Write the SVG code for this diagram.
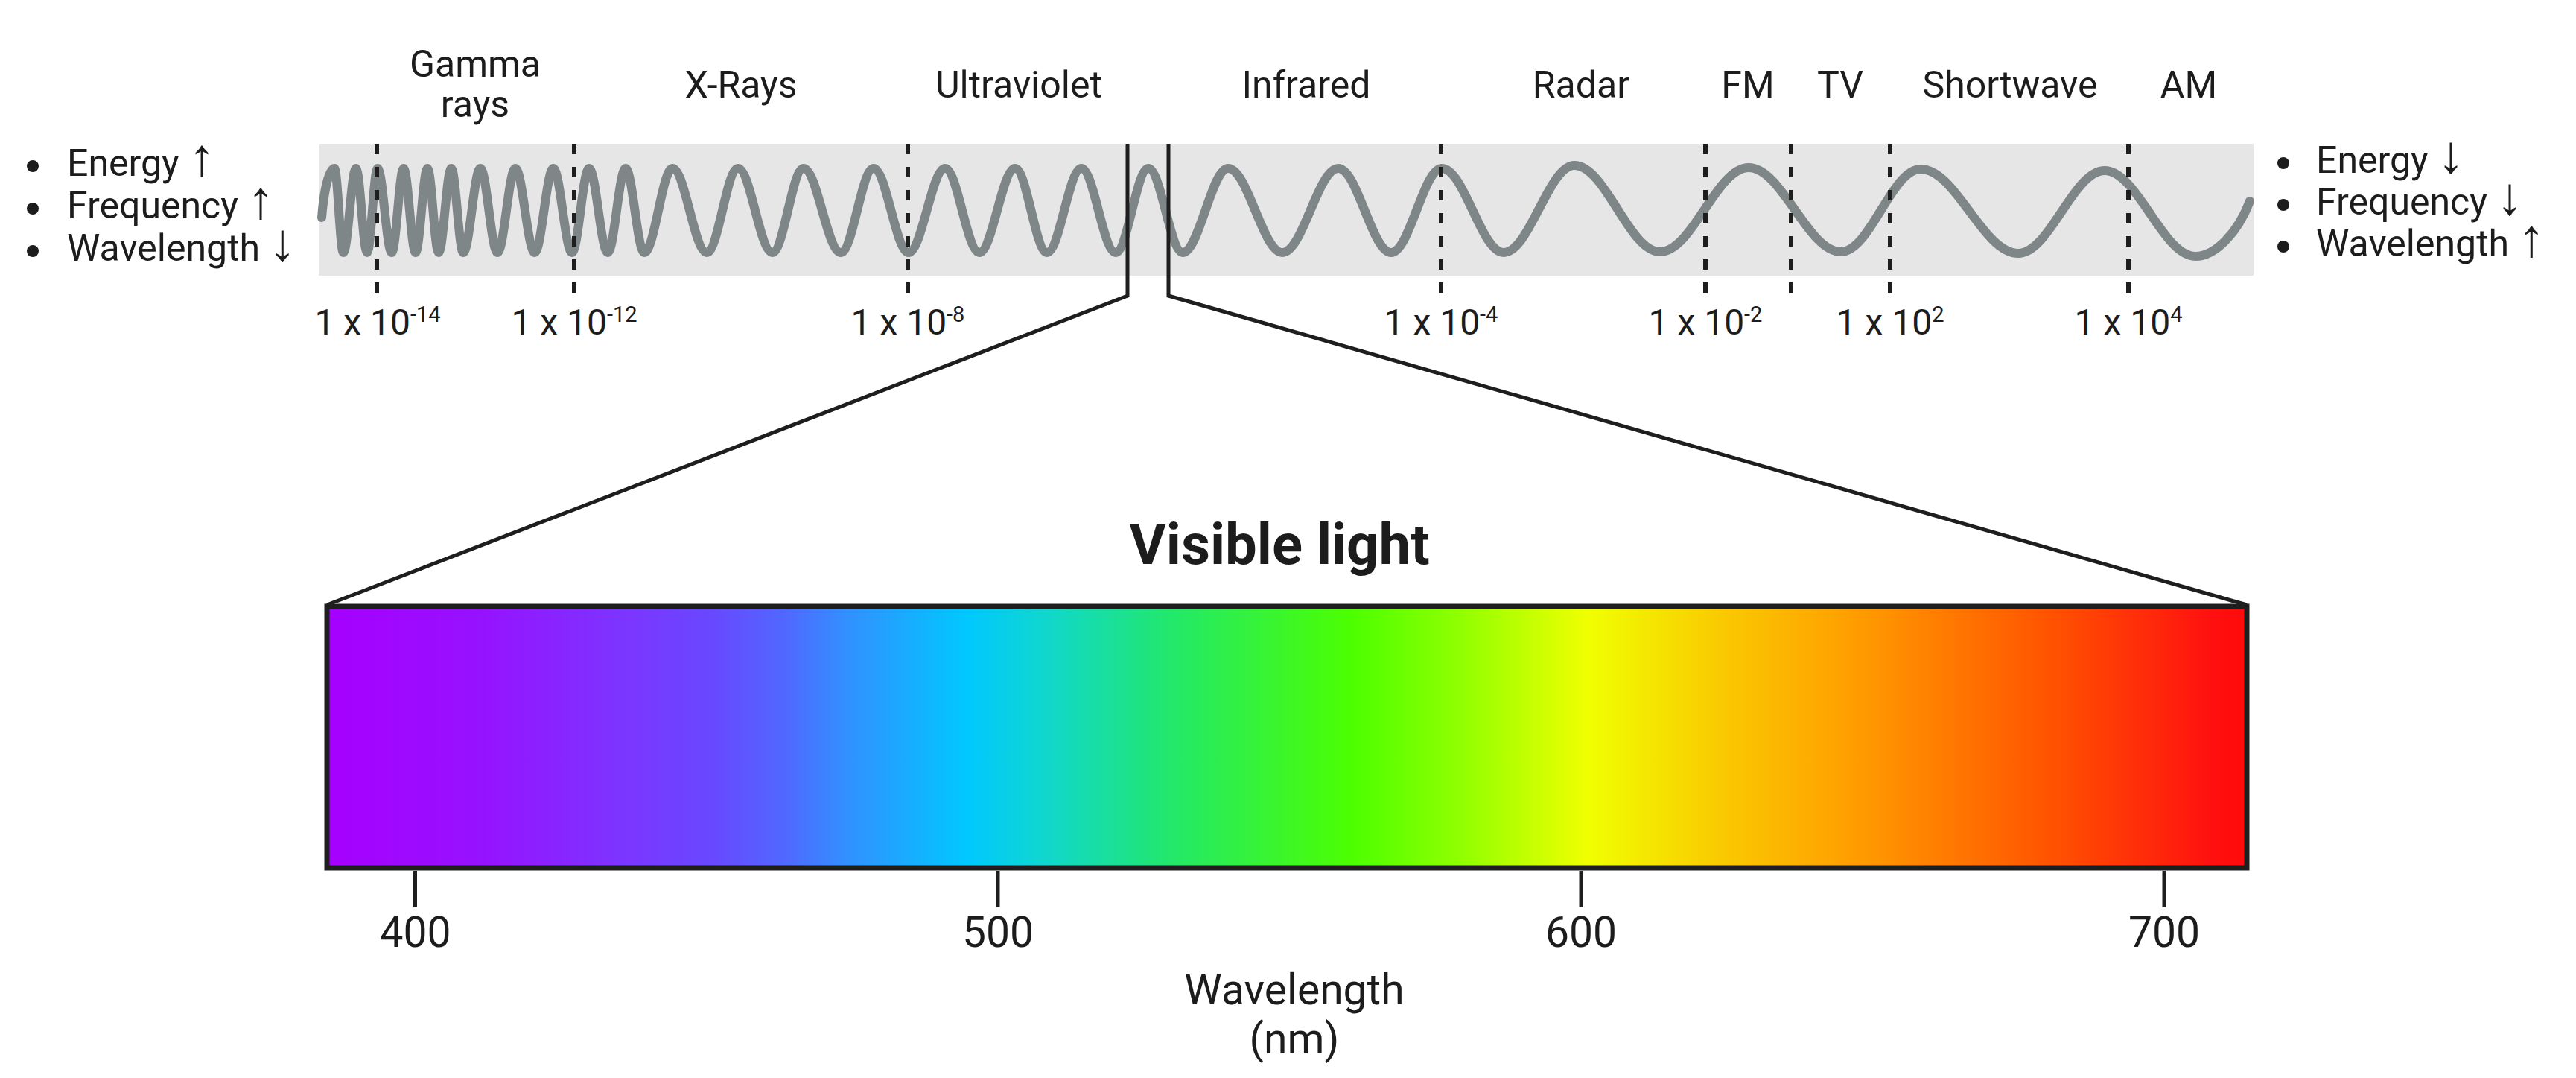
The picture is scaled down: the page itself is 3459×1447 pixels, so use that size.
<svg xmlns="http://www.w3.org/2000/svg" width="3459" height="1447" viewBox="0 0 3459 1447">
<defs>
<style>
text{font-family:Roboto,"Liberation Sans","DejaVu Sans",sans-serif;fill:#1c1c1c}
.lbl{font-size:50px;text-anchor:middle}
.side{font-size:50px}
.arr{font-family:"Liberation Sans","DejaVu Sans",sans-serif;font-size:72px}
.exp{font-size:48px;text-anchor:middle}
.sup{font-size:29px}
.vis{font-size:76px;font-weight:700;text-anchor:middle}
.nm{font-size:57px;text-anchor:middle}
.dash{stroke:#1e1e1e;stroke-width:6;stroke-dasharray:14 17;fill:none}
.conn{stroke:#1e1e1e;stroke-width:5;fill:none;stroke-linejoin:miter}
.tick{stroke:#1e1e1e;stroke-width:5}
.dot{fill:#1c1c1c}
</style>
<linearGradient id="rainbow" gradientUnits="userSpaceOnUse" x1="442" y1="0" x2="3014" y2="0">
<stop offset="0" stop-color="#a600ff"/>
<stop offset="0.08" stop-color="#9612ff"/>
<stop offset="0.154" stop-color="#7c35ff"/>
<stop offset="0.2" stop-color="#6848ff"/>
<stop offset="0.24" stop-color="#4f6aff"/>
<stop offset="0.27" stop-color="#3290ff"/>
<stop offset="0.295" stop-color="#1ea6ff"/>
<stop offset="0.333" stop-color="#00c8ff"/>
<stop offset="0.372" stop-color="#10d6d0"/>
<stop offset="0.44" stop-color="#22e86a"/>
<stop offset="0.534" stop-color="#4cff00"/>
<stop offset="0.59" stop-color="#90ff00"/>
<stop offset="0.657" stop-color="#f0ff00"/>
<stop offset="0.729" stop-color="#fac800"/>
<stop offset="0.792" stop-color="#ffa000"/>
<stop offset="0.848" stop-color="#ff7800"/>
<stop offset="0.9" stop-color="#ff5200"/>
<stop offset="0.983" stop-color="#ff1010"/>
<stop offset="1" stop-color="#ff0a0a"/>
</linearGradient>
</defs>
<rect width="3459" height="1447" fill="#ffffff"/>

<g id="spectrum-band">
<rect x="428" y="193" width="2598" height="177" fill="#e6e6e6"/>
</g>

<g id="wave">
<path fill="none" stroke="#7f8687" stroke-width="12" stroke-linecap="round" stroke-linejoin="round" d="M432,292 C435,255 442,226 449,226 C453.4,226 456.6,339 461,339 C467.2,339 471.8,226 478,226 C483.5,226 487.5,339 493,339 C498.1,339 501.9,226 507,226 C513.9,226 519.1,339 526,339 C531.8,339 536.2,226 542,226 C547.8,226 552.2,339 558,339 C563.8,339 568.2,226 574,226 C579.5,226 583.5,339 589,339 C595.2,339 599.8,226 606,226 C611.8,226 616.2,339 622,339 C630.4,339 636.6,226 645,226 C653.4,226 659.6,339 668,339 C676.7,339 683.3,226 692,226 C701.4,226 708.6,339 718,339 C727.1,339 733.9,226 743,226 C752.1,226 758.9,339 768,339 C776.4,339 782.6,226 791,226 C800.1,226 806.9,339 816,339 C824.7,339 831.3,226 840,226 C849.1,226 855.9,339 865,339 C878.8,339 889.2,226 903,226 C919.7,226 932.3,339 949,339 C964.3,339 975.7,226 991,226 C1007.7,226 1020.3,339 1037,339 C1052.3,339 1063.7,226 1079,226 C1097.2,226 1110.8,339 1129,339 C1145,339 1157,226 1173,226 C1190.1,226 1202.9,339 1220,339 C1237.8,339 1251.2,226 1269,226 C1285.7,226 1298.3,339 1315,339 C1332.4,339 1345.6,226 1363,226 C1378.6,226 1390.4,339 1406,339 C1422.7,339 1435.3,226 1452,226 C1468.7,226 1481.3,339 1498,339 C1514,339 1526,226 1542,226 C1558.7,226 1571.3,339 1588,339 C1610.2,339 1626.8,226 1649,226 C1675.5,226 1695.5,339 1722,339 C1749.3,339 1769.7,226 1797,226 C1822.8,226 1842.2,339 1868,339 C1892.7,339 1911.3,226 1936,226 C1966.2,226 1988.8,339 2019,339 C2053.5,339 2079.5,222 2114,222 C2155.8,222 2187.2,338 2229,338 C2272.2,338 2304.8,225 2348,225 C2393.1,225 2426.9,338 2472,338 C2510.9,338 2540.1,227 2579,227 C2626.6,227 2662.4,340 2710,340 C2752.2,340 2783.8,229 2826,229 C2870.3,229 2903.7,344 2948,344 C2975,344 3005,312 3021,270"/>
</g>

<g id="dividers">
<line class="dash" x1="506" y1="193" x2="506" y2="393"/>
<line class="dash" x1="771" y1="193" x2="771" y2="393"/>
<line class="dash" x1="1219" y1="193" x2="1219" y2="393"/>
<line class="dash" x1="1935" y1="193" x2="1935" y2="393"/>
<line class="dash" x1="2290" y1="193" x2="2290" y2="393"/>
<line class="dash" x1="2405" y1="193" x2="2405" y2="393"/>
<line class="dash" x1="2538" y1="193" x2="2538" y2="393"/>
<line class="dash" x1="2858" y1="193" x2="2858" y2="393"/>
</g>

<g id="band-labels">
<text class="lbl" x="638" y="103">Gamma</text>
<text class="lbl" x="638" y="157">rays</text>
<text class="lbl" x="995" y="131">X-Rays</text>
<text class="lbl" x="1368" y="131">Ultraviolet</text>
<text class="lbl" x="1754" y="131">Infrared</text>
<text class="lbl" x="2123" y="131">Radar</text>
<text class="lbl" x="2347" y="131">FM</text>
<text class="lbl" x="2471" y="131">TV</text>
<text class="lbl" x="2699" y="131">Shortwave</text>
<text class="lbl" x="2939" y="131">AM</text>
</g>

<g id="scale-labels">
<text class="exp" x="507" y="449">1 x 10<tspan class="sup" dy="-17">-14</tspan></text>
<text class="exp" x="771" y="449">1 x 10<tspan class="sup" dy="-17">-12</tspan></text>
<text class="exp" x="1219" y="449">1 x 10<tspan class="sup" dy="-17">-8</tspan></text>
<text class="exp" x="1935" y="449">1 x 10<tspan class="sup" dy="-17">-4</tspan></text>
<text class="exp" x="2290" y="449">1 x 10<tspan class="sup" dy="-17">-2</tspan></text>
<text class="exp" x="2538" y="449">1 x 10<tspan class="sup" dy="-17">2</tspan></text>
<text class="exp" x="2858" y="449">1 x 10<tspan class="sup" dy="-17">4</tspan></text>
</g>

<g id="legend-left">
<circle class="dot" cx="44" cy="223" r="8"/>
<circle class="dot" cx="44" cy="280" r="8"/>
<circle class="dot" cx="44" cy="337" r="8"/>
<text class="side" x="90" y="236">Energy <tspan class="arr">↑</tspan></text>
<text class="side" x="90" y="293">Frequency <tspan class="arr">↑</tspan></text>
<text class="side" x="90" y="350">Wavelength <tspan class="arr">↓</tspan></text>
</g>

<g id="legend-right">
<circle class="dot" cx="3066" cy="219" r="8"/>
<circle class="dot" cx="3066" cy="275" r="8"/>
<circle class="dot" cx="3066" cy="331" r="8"/>
<text class="side" x="3110" y="232">Energy <tspan class="arr">↓</tspan></text>
<text class="side" x="3110" y="288">Frequency <tspan class="arr">↓</tspan></text>
<text class="side" x="3110" y="344">Wavelength <tspan class="arr">↑</tspan></text>
</g>

<g id="connectors">
<polyline class="conn" points="1514,193 1514,397 439,812"/>
<polyline class="conn" points="1569,193 1569,397 3017,812"/>
</g>

<g id="visible-light">
<text class="vis" x="1718" y="757">Visible light</text>
<rect x="439" y="814" width="2578" height="351" fill="url(#rainbow)" stroke="#1e1e1e" stroke-width="7"/>
<line class="tick" x1="557.5" y1="1169" x2="557.5" y2="1218"/>
<line class="tick" x1="1340" y1="1169" x2="1340" y2="1218"/>
<line class="tick" x1="2123" y1="1169" x2="2123" y2="1218"/>
<line class="tick" x1="2906" y1="1169" x2="2906" y2="1218"/>
<text class="nm" x="557.5" y="1271">400</text>
<text class="nm" x="1340" y="1271">500</text>
<text class="nm" x="2123" y="1271">600</text>
<text class="nm" x="2906" y="1271">700</text>
<text class="nm" x="1738" y="1348">Wavelength</text>
<text class="nm" x="1738" y="1414">(nm)</text>
</g>
</svg>
